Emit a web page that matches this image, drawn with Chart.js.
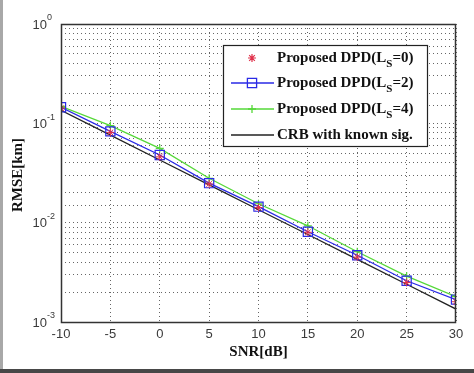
<!DOCTYPE html>
<html>
<head>
<meta charset="utf-8">
<script src="https://cdn.jsdelivr.net/npm/chart.js@4.4.0/dist/chart.umd.min.js"></script>
<style>
  html, body { margin: 0; padding: 0; background: #fff; }
  canvas { display: block; }
</style>
</head>
<body>
<canvas id="chart" width="474" height="373"></canvas>
<script>
// SNR [dB] on the x axis
const snr = [-10, -5, 0, 5, 10, 15, 20, 25, 30];
// RMSE [km]
const dpdLs0 = [0.142, 0.081, 0.046, 0.0245, 0.0142, 0.0080, 0.0045, 0.0025, 0.0016];
const dpdLs2 = [0.145, 0.083, 0.048, 0.025, 0.0145, 0.0081, 0.0047, 0.0026, 0.00168];
const dpdLs4 = [0.148, 0.095, 0.056, 0.028, 0.0155, 0.0093, 0.0051, 0.0029, 0.0018];
const crb = [0.135, 0.076, 0.0427, 0.024, 0.0135, 0.0076, 0.00427, 0.0024, 0.00135];
const xTicks = [-10, -5, 0, 5, 10, 15, 20, 25, 30];
const yDecades = [0, -1, -2, -3];

const serif = '"Liberation Serif", "Times New Roman", serif';
const sans = '"Liberation Sans", Arial, sans-serif';

function pts(values) {
    return snr.map((x, i) => ({x: x, y: values[i]}));
}

const frame = {
    id: 'frame',
    beforeDraw(chart) {
        const ctx = chart.ctx;
        ctx.save();
        ctx.fillStyle = '#fff';
        ctx.fillRect(0, 0, chart.width, chart.height);
        ctx.fillStyle = '#a8a8a8';
        ctx.fillRect(0, 0, 3, chart.height);
        ctx.fillStyle = '#474747';
        ctx.fillRect(0, chart.height - 4, chart.width, 4);
        ctx.restore();
    },
    afterDraw(chart) {
        const ctx = chart.ctx;
        const a = chart.chartArea;
        const ys = chart.scales.y;
        ctx.save();
        // axes box
        ctx.strokeStyle = '#333';
        ctx.lineWidth = 1.5;
        ctx.strokeRect(a.left + 0.5, a.top + 0.5, a.right - a.left - 1, a.bottom - a.top);

        // y tick labels 10^n
        ctx.fillStyle = '#3a3a3a';
        ctx.textBaseline = 'middle';
        yDecades.forEach(p => {
            const y = ys.getPixelForValue(Math.pow(10, p));
            ctx.font = '13px ' + sans;
            ctx.textAlign = 'right';
            ctx.fillText('10', 47, y + 1);
            ctx.font = '9px ' + sans;
            ctx.textAlign = 'left';
            ctx.fillText(p === 0 ? '0' : '-' + Math.abs(p), 47, y - 6);
        });

        // axis titles
        ctx.font = 'bold 15px ' + serif;
        ctx.fillStyle = '#111';
        ctx.textAlign = 'center';
        ctx.fillText('SNR[dB]', (a.left + a.right) / 2, 352);
        ctx.save();
        ctx.translate(18, 175);
        ctx.rotate(-Math.PI / 2);
        ctx.fillText('RMSE[km]', 0, 0);
        ctx.restore();

        // legend inside the plot
        const lx = 223, ly = 45, lw = 204, lh = 101;
        ctx.fillStyle = '#fff';
        ctx.fillRect(lx, ly, lw, lh);
        ctx.strokeStyle = '#222';
        ctx.lineWidth = 1.2;
        ctx.strokeRect(lx + 0.5, ly + 0.5, lw, lh);
        const rows = [58, 83, 109, 135];
        chart.data.datasets.forEach((ds, i) => {
            const y = rows[i];
            if (ds.showLine !== false) {
                ctx.strokeStyle = ds.borderColor;
                ctx.lineWidth = 1.3;
                ctx.beginPath();
                ctx.moveTo(lx + 8, y);
                ctx.lineTo(lx + 51, y);
                ctx.stroke();
            }
            if (ds.pointRadius > 0) {
                ctx.strokeStyle = ds.borderColor;
                ctx.fillStyle = ds.backgroundColor;
                Chart.helpers.drawPoint(ctx, {
                    pointStyle: ds.pointStyle,
                    radius: ds.pointRadius,
                    borderWidth: ds.pointBorderWidth,
                    rotation: 0
                }, lx + 29, y);
            }
            ctx.fillStyle = '#111';
            ctx.textAlign = 'left';
            ctx.textBaseline = 'middle';
            ctx.font = 'bold 15px ' + serif;
            const parts = ds.legendParts;
            let x = lx + 54;
            ctx.fillText(parts[0], x, y);
            x += ctx.measureText(parts[0]).width;
            if (parts.length > 1) {
                ctx.font = 'bold 11px ' + serif;
                ctx.fillText(parts[1], x, y + 6);
                x += ctx.measureText(parts[1]).width;
                ctx.font = 'bold 15px ' + serif;
                ctx.fillText(parts[2], x, y);
            }
        });
        ctx.restore();
    }
};

const ctx = document.getElementById('chart').getContext('2d');
new Chart(ctx, {
    type: 'line',
    data: {
        datasets: [{
            label: 'Proposed DPD(Ls=0)',
            legendParts: ['Proposed DPD(L', 'S', '=0)'],
            data: pts(dpdLs0),
            showLine: false,
            borderColor: '#e0304a',
            backgroundColor: '#e0304a',
            pointStyle: 'star',
            pointRadius: 4,
            pointBorderWidth: 1
        }, {
            label: 'Proposed DPD(Ls=2)',
            legendParts: ['Proposed DPD(L', 'S', '=2)'],
            data: pts(dpdLs2),
            borderColor: '#2a2ae6',
            backgroundColor: 'rgba(0,0,0,0)',
            borderWidth: 1.3,
            pointStyle: 'rect',
            pointRadius: 6.5,
            pointBorderWidth: 1.2
        }, {
            label: 'Proposed DPD(Ls=4)',
            legendParts: ['Proposed DPD(L', 'S', '=4)'],
            data: pts(dpdLs4),
            borderColor: '#55d838',
            backgroundColor: '#55d838',
            borderWidth: 1.3,
            pointStyle: 'cross',
            pointRadius: 4,
            pointBorderWidth: 1.2
        }, {
            label: 'CRB with known sig.',
            legendParts: ['CRB with known sig.'],
            data: pts(crb),
            borderColor: '#222',
            borderWidth: 1.3,
            pointRadius: 0
        }]
    },
    options: {
        responsive: false,
        devicePixelRatio: 1,
        animation: false,
        layout: {padding: {top: 24, right: 18, left: 0, bottom: 0}},
        plugins: {legend: {display: false}, tooltip: {enabled: false}},
        elements: {line: {tension: 0}},
        scales: {
            x: {
                type: 'linear',
                min: -10,
                max: 30,
                afterBuildTicks: s => { s.ticks = xTicks.map(v => ({value: v})); },
                afterFit: s => { s.height = 51; },
                grid: {color: 'rgba(0,0,0,0.6)', lineWidth: 1, drawTicks: false},
                border: {display: false, dash: [1, 3]},
                ticks: {
                    color: '#3a3a3a',
                    padding: 5,
                    font: {family: sans, size: 13},
                    maxRotation: 0
                }
            },
            y: {
                type: 'logarithmic',
                min: 0.001,
                max: 1,
                afterFit: s => { s.width = 61; },
                grid: {color: 'rgba(0,0,0,0.6)', lineWidth: 1, drawTicks: false},
                border: {display: false, dash: [1, 3]},
                ticks: {display: true, callback: () => '', autoSkip: false}
            }
        }
    },
    plugins: [frame]
});
</script>
</body>
</html>
